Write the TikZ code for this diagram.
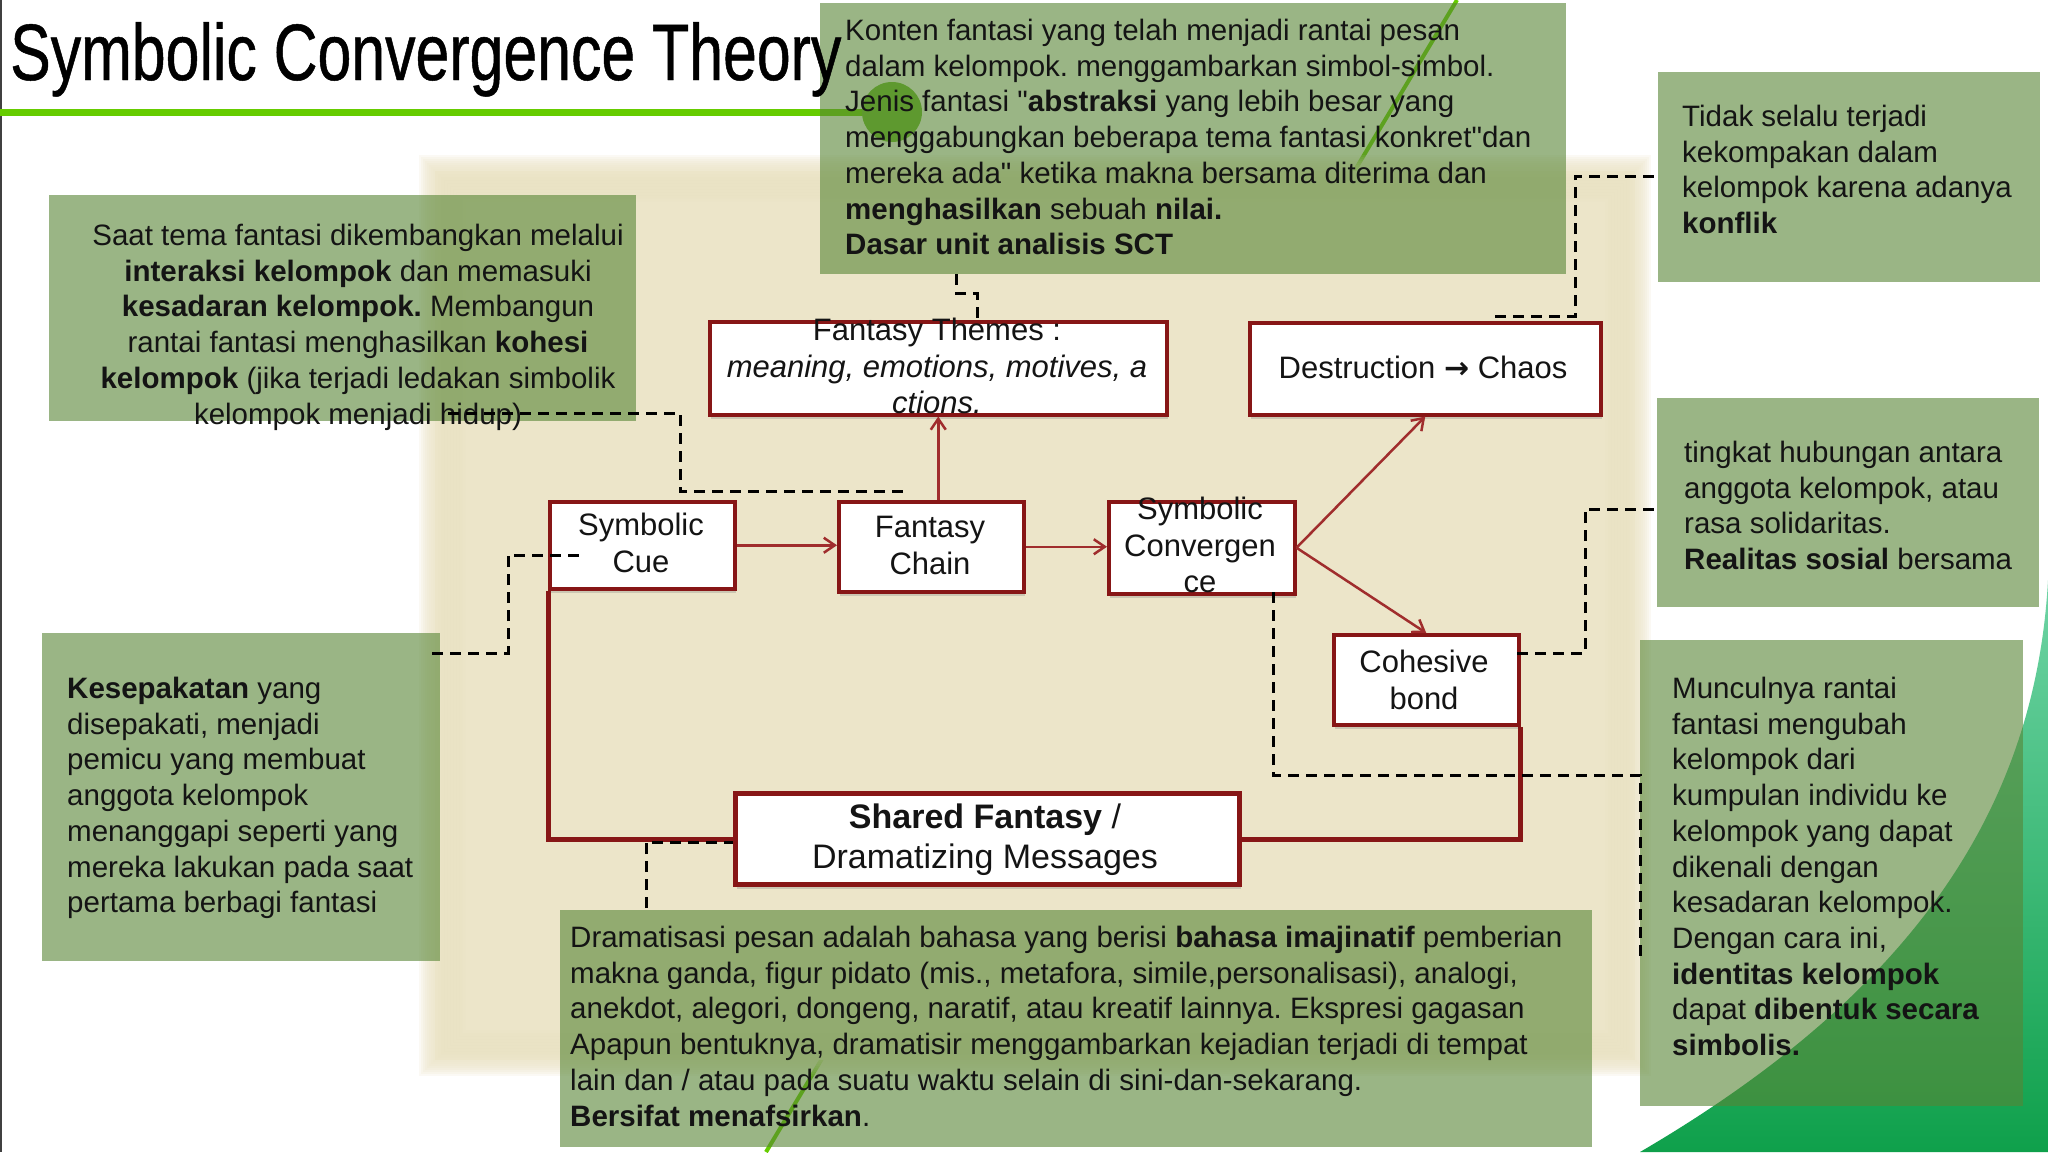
\documentclass[tikz,border=0pt]{standalone}
\usepackage{fontspec}
\setmainfont{Liberation Sans}[Ligatures=TeXOff]
\newfontfamily\titlefont[FakeStretch=0.76,FakeBold=0.6]{Liberation Sans}
\newfontfamily\arrowfont{DejaVu Sans}
\usetikzlibrary{arrows.meta,shadows}
\definecolor{gfill}{RGB}{87,133,53}
\definecolor{brightgreen}{RGB}{102,204,0}
\definecolor{circgreen}{RGB}{105,185,40}
\definecolor{parch}{RGB}{236,229,201}
\definecolor{parchedge}{RGB}{228,216,180}
\definecolor{boxred}{RGB}{135,22,22}
\definecolor{arrred}{RGB}{160,45,45}
\definecolor{txt}{RGB}{20,20,20}
\definecolor{cornerlight}{RGB}{110,212,165}
\definecolor{cornerdark}{RGB}{15,160,75}
\frenchspacing
\begin{document}
\begin{tikzpicture}[x=1pt,y=-1pt,
  gbox/.style={fill=gfill, fill opacity=0.6, draw=none, inner sep=0pt, anchor=north west},
  gtext/.style={inner sep=0pt, anchor=north west, align=left, text=txt, font=\fontsize{29.5}{35.7}\selectfont},
  dbox/.style={draw=boxred, line width=3.5pt, fill=white, inner sep=0pt, anchor=north west,
     drop shadow={shadow xshift=1.5pt, shadow yshift=-4pt, opacity=0.3}},
  dtext/.style={inner sep=0pt, anchor=north, align=center, text=txt, font=\fontsize{31}{36.5}\selectfont},
  arr/.style={draw=arrred, line width=2.5pt, -{Straight Barb[length=11pt,width=15pt]}},
  redline/.style={draw=boxred, line width=5pt},
  dashline/.style={draw=black, line width=3pt, dash pattern=on 11pt off 7pt}]

% canvas
\fill[white] (0,0) rectangle (2048,1152);
\useasboundingbox (0,0) rectangle (2048,1152);
\draw[line width=2pt, black!75] (1,0) -- (1,1152);

% bottom-right green shape
\shade[top color=cornerlight, bottom color=cornerdark]
  (1640,1152) .. controls (1900,1000) and (2035,820) .. (2048,580) -- (2048,1152) -- cycle;

% decorative green lines
\draw[brightgreen, line width=4pt] (1457,0) -- (766,1152);
\draw[brightgreen, line width=7pt] (0,112) -- (892,112);
\fill[circgreen] (892,112) circle (30);

% parchment with soft edges
\foreach \k in {8,...,1}
  \fill[parch, opacity=0.2] (435-2*\k,171-2*\k) rectangle (1635+2*\k,1060+2*\k);
\fill[parch] (435,171) rectangle (1635,1060);
\foreach \k in {1,...,8}
  \fill[parchedge, opacity=0.06] (435+3*\k,171+3*\k) -- (1635-3*\k,171+3*\k) -- (1635-3*\k,1060-3*\k) -- (435+3*\k,1060-3*\k) -- cycle
        (435+3*\k+6,171+3*\k+6) -- (435+3*\k+6,1060-3*\k-6) -- (1635-3*\k-6,1060-3*\k-6) -- (1635-3*\k-6,171+3*\k+6) -- cycle;

% green note boxes
\node[gbox, minimum width=746pt, minimum height=271pt] (b1) at (820,3) {};
\node[gbox, minimum width=382pt, minimum height=210pt] (b2) at (1658,72) {};
\node[gbox, minimum width=587pt, minimum height=226pt] (b3) at (49,195) {};
\node[gbox, minimum width=398pt, minimum height=328pt] (b4) at (42,633) {};
\node[gbox, minimum width=382pt, minimum height=209pt] (b5) at (1657,398) {};
\node[gbox, minimum width=383pt, minimum height=466pt] (b6) at (1640,640) {};
\node[gbox, minimum width=1032pt, minimum height=237pt] (b7) at (560,910) {};

% diagram boxes
\node[dbox, minimum width=457pt, minimum height=93pt] (ft) at (708,320) {};
\node[dbox, minimum width=351pt, minimum height=92pt] (dc) at (1248,321) {};
\node[dbox, minimum width=185pt, minimum height=87pt] (cue) at (548,500) {};
\node[dbox, minimum width=185pt, minimum height=90pt] (fc) at (837,500) {};
\node[dbox, minimum width=186pt, minimum height=92pt] (sc) at (1107,500) {};
\node[dbox, minimum width=185pt, minimum height=90pt] (cb) at (1332,633) {};
\node[dbox, line width=5pt, minimum width=504pt, minimum height=91pt] (sf) at (733,791) {};

% thick red loop
\draw[redline] (cue.south west) |- (sf.west);
\draw[redline] (sf.east) -| (cb.south east);

% arrows
\draw[arr] (cue.east) -- (cue.east -| fc.west);
\draw[arr] (fc.east) -- (fc.east -| sc.west);
\draw[arr] ([xshift=7pt]fc.north) -- ([xshift=7pt]fc.north |- ft.south);
\draw[arr] (sc.east) -- (dc.south);
\draw[arr] (sc.east) -- (cb.north);

% diagram texts
\node[dtext] (ftt) at (937,318) {Fantasy Themes :\\ \textit{meaning, emotions, motives, a}\\ \textit{ctions.}};
\node[dtext, anchor=base] (dct) at (1423,378) {Destruction {\arrowfont\bfseries\fontsize{30}{30}\selectfont →} Chaos};
\node[dtext] (cuet) at (641,513) {Symbolic\\Cue};
\node[dtext] (fct) at (930,516) {Fantasy\\Chain};
\node[dtext] (sct) at (1200,497) {Symbolic\\Convergen\\ce};
\node[dtext] (cbt) at (1424,650) {Cohesive\\bond};
\node[dtext, font=\fontsize{34}{40}\selectfont] (sft) at (985,804) {\textbf{Shared Fantasy} /\\Dramatizing Messages};

% note texts
\node[gtext] (t1) at (845,19) {Konten fantasi yang telah menjadi rantai pesan\\
dalam kelompok. menggambarkan simbol-simbol.\\
Jenis fantasi "\textbf{abstraksi} yang lebih besar yang\\
menggabungkan beberapa tema fantasi konkret"dan\\
mereka ada" ketika makna bersama diterima dan\\
\textbf{menghasilkan} sebuah \textbf{nilai.}\\
\textbf{Dasar unit analisis SCT}};
\node[gtext] (t2) at (1682,105) {Tidak selalu terjadi\\kekompakan dalam\\kelompok karena adanya\\\textbf{konflik}};
\node[gtext, anchor=north, align=center] (t3) at (358,224) {Saat tema fantasi dikembangkan melalui\\
\textbf{interaksi kelompok} dan memasuki\\
\textbf{kesadaran kelompok.} Membangun\\
rantai fantasi menghasilkan \textbf{kohesi}\\
\textbf{kelompok} (jika terjadi ledakan simbolik\\
kelompok menjadi hidup)};
\node[gtext] (t4) at (67,677) {\textbf{Kesepakatan} yang\\disepakati, menjadi\\pemicu yang membuat\\anggota kelompok\\menanggapi seperti yang\\mereka lakukan pada saat\\pertama berbagi fantasi};
\node[gtext] (t5) at (1684,441) {tingkat hubungan antara\\anggota kelompok, atau\\rasa solidaritas.\\\textbf{Realitas sosial} bersama};
\node[gtext] (t6) at (1672,677) {Munculnya rantai\\fantasi mengubah\\kelompok dari\\kumpulan individu ke\\kelompok yang dapat\\dikenali dengan\\kesadaran kelompok.\\Dengan cara ini,\\\textbf{identitas kelompok}\\dapat \textbf{dibentuk secara}\\\textbf{simbolis.}};
\node[gtext] (t7) at (570,926) {Dramatisasi pesan adalah bahasa yang berisi \textbf{bahasa imajinatif} pemberian\\
makna ganda, figur pidato (mis., metafora, simile,personalisasi), analogi,\\
anekdot, alegori, dongeng, naratif, atau kreatif lainnya. Ekspresi gagasan\\
Apapun bentuknya, dramatisir menggambarkan kejadian terjadi di tempat\\
lain dan / atau pada suatu waktu selain di sini-dan-sekarang.\\
\textbf{Bersifat menafsirkan}.};

% dashed callout connectors
\coordinate (d1a) at (956,274);
\coordinate (d1b) at (977,293);
\draw[dashline] (d1a) |- (d1b) -- (d1b |- ft.north);
\coordinate (d2a) at (448,413);
\coordinate (d2b) at (680,491);
\coordinate (d2c) at (904,491);
\draw[dashline] (d2a) -| (d2b) -- (d2c);
\coordinate (d3a) at (432,653);
\coordinate (d3b) at (508,555);
\coordinate (d3c) at (585,555);
\draw[dashline] (d3a) -| (d3b) -- (d3c);
\coordinate (d4a) at (646,908);
\coordinate (d4b) at (733,842);
\draw[dashline] (d4a) |- (d4b);
\coordinate (d5a) at (1273,592);
\coordinate (d5b) at (1640,775);
\coordinate (d5c) at (1640,960);
\draw[dashline] (d5a) |- (d5b) -- (d5c);
\coordinate (d6a) at (1517,653);
\coordinate (d6b) at (1585,509);
\draw[dashline] (d6a) -| (d6b) -- (d6b -| b5.west);
\coordinate (d7a) at (1495,316);
\coordinate (d7b) at (1575,176);
\draw[dashline] (d7a) -| (d7b) -- (d7b -| b2.west);

% title
\node[inner sep=0pt, anchor=base west, font=\titlefont\fontsize{80}{80}\selectfont] (title) at (10,80) {Symbolic Convergence Theory};
\end{tikzpicture}
\end{document}
